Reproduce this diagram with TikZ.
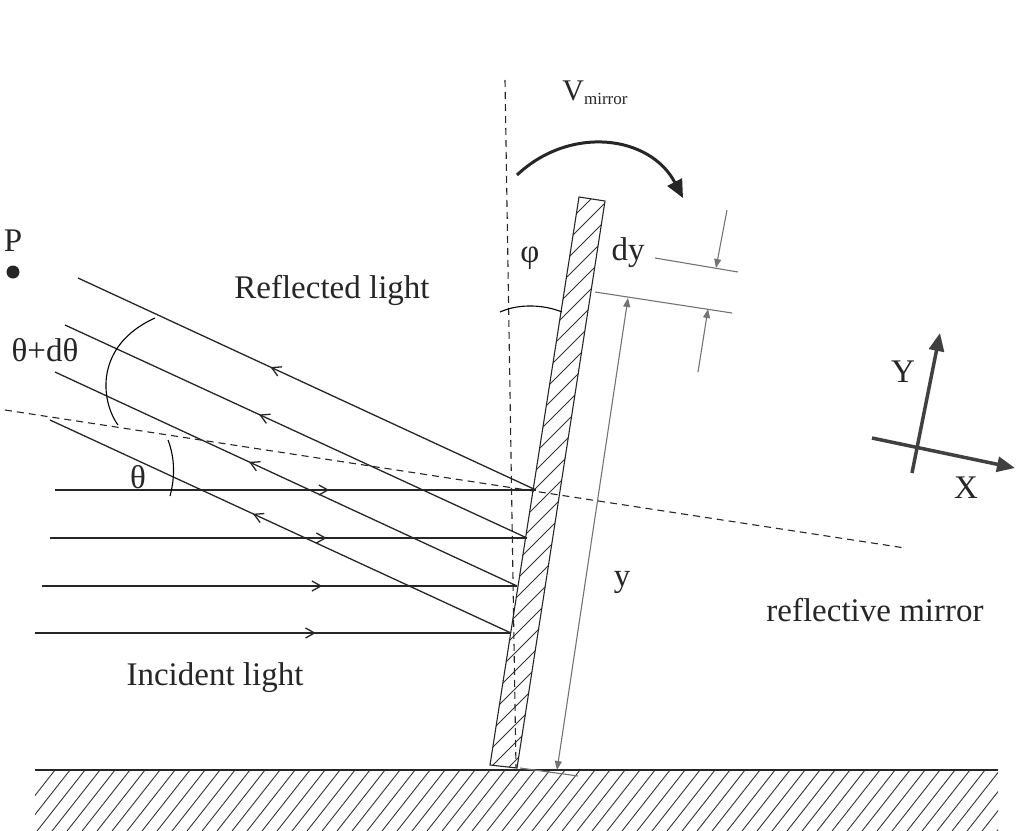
\documentclass[tikz,border=0pt]{standalone}
\usepackage{fontspec}
\setmainfont{Liberation Serif}
\usetikzlibrary{arrows.meta,decorations.markings}
\begin{document}
\begin{tikzpicture}[x=1pt,y=-1pt,
  ray/.style={line width=1.3pt,black!85},
  mid/.style={postaction={decorate},decoration={markings,mark=at position #1 with {\arrow{Straight Barb[length=9pt,width=10pt]}}}},
  dsh/.style={line width=1.1pt,dash pattern=on 7pt off 5pt,black!85},
  dim/.style={line width=1.1pt,gray!90!black},
  lbl/.style={font=\fontsize{33}{36}\selectfont,text=black!85},
  axis/.style={line width=3.5pt,black!75,-{Triangle[length=18pt,width=15pt]}}]
\useasboundingbox (0,0) rectangle (1020,830);
% ground
\begin{scope}
\clip (35,770) rectangle (998,830);
\foreach \i in {0,15,...,1020} \draw[line width=0.9pt,black!80] (\i,840)--(\i+55,770);
\end{scope}
\draw[line width=1.3pt,black!85] (35,770)--(998,770);
% mirror
\coordinate (m1) at (579,197);\coordinate (m2) at (605,201);
\coordinate (m3) at (517,768);\coordinate (m4) at (490,765);
\begin{scope}
\clip (m1)--(m2)--(m3)--(m4)--cycle;
\foreach \i in {180,198,...,800} \draw[line width=0.9pt,black!80] (480,\i+40)--(620,\i-100);
\end{scope}
\draw[line width=1.1pt,black!85] (m1)--(m2)--(m3)--(m4)--cycle;
% dashed lines
\draw[dsh] (505,80)--(516,768);
\draw[dsh] (5,410)--(905,548);
% incident rays
\coordinate (h1) at (536,490);\coordinate (h2) at (527,538);
\coordinate (h3) at (517,586);\coordinate (h4) at (511,633);
\draw[ray,mid=0.57] (55,490)--(h1);
\draw[ray,mid=0.58] (50,538)--(h2);
\draw[ray,mid=0.59] (42,586)--(h3);
\draw[ray,mid=0.59] (35,633)--(h4);
% reflected rays
\draw[ray,mid=0.58] (h1)--(78,278);
\draw[ray,mid=0.58] (h2)--(65,325);
\draw[ray,mid=0.58] (h3)--(55,372);
\draw[ray,mid=0.56] (h4)--(50,420);
% angles
\draw[line width=1.1pt] (168,440) .. controls (175,458) and (175,478) .. (170,496);
\draw[line width=1.1pt] (155,318) .. controls (95,345) and (100,400) .. (118,425);
\draw[line width=1.1pt] (500,312) .. controls (520,303) and (545,305) .. (562,312);
% mirror rotation arrow
\draw[line width=3pt,black!85,-{Triangle[length=18pt,width=16pt]}] (517,175) .. controls (570,125) and (650,135) .. (683,198);
% dy dimension
\draw[dim] (595,292)--(732,313);
\draw[dim] (655,258)--(738,272);
\draw[dim,-{Triangle[length=9pt,width=7pt]}] (727,210)--(716,268);
\draw[dim,-{Triangle[length=9pt,width=7pt]}] (698,372)--(708,309);
\draw[dim,{Triangle[length=9pt,width=7pt]}-{Triangle[length=9pt,width=7pt]}] (628,298)--(557,770);
\draw[dim] (520,768)--(578,776);
% axes
\draw[axis] (872,438)--(1015,468);
\draw[axis] (912,473)--(940,333);
% texts
\node[lbl] at (595,93) {\fontsize{30}{30}\selectfont V\raisebox{-4pt}{\fontsize{17}{17}\selectfont mirror}};
\node[lbl] at (628,253) {dy};
\node[lbl] at (530,258) {φ};
\node[lbl] at (622,582) {y};
\node[lbl] at (13,241) {P};
\fill[black!85] (13,272) circle (6.5);
\node[lbl] at (332,290) {Reflected light};
\node[lbl] at (45,350) {θ+dθ};
\node[lbl] at (138,477) {θ};
\node[lbl] at (215,678) {Incident light};
\node[lbl] at (875,610) {reflective mirror};
\node[lbl] at (903,372) {Y};
\node[lbl] at (966,488) {X};
\end{tikzpicture}
\end{document}
